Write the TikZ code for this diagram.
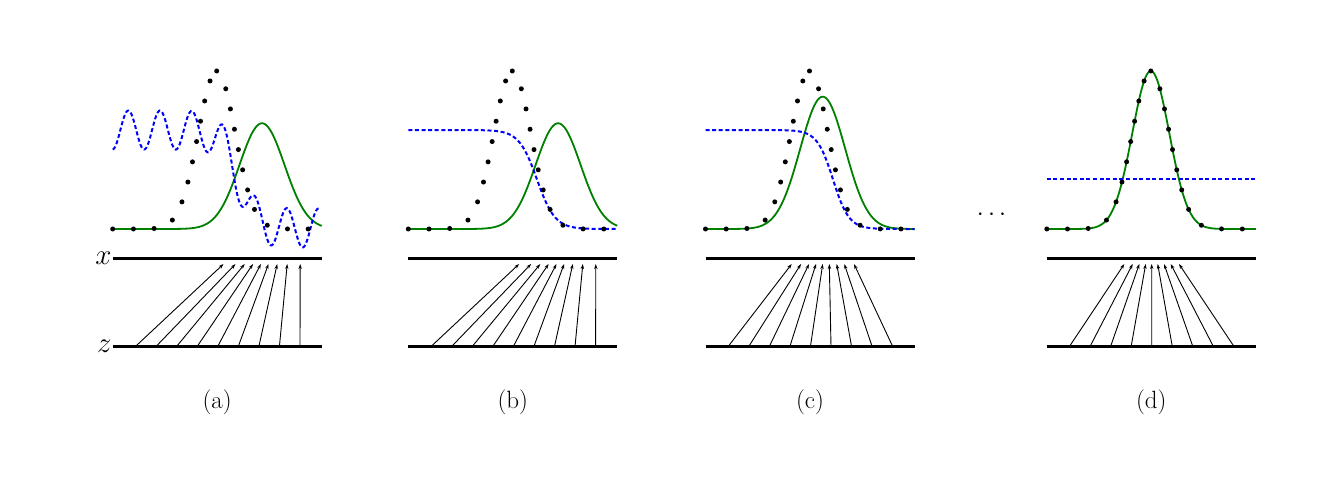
\RequirePackage{fix-cm}
\documentclass[tikz,border=0pt]{standalone}
\usetikzlibrary{arrows.meta}
\definecolor{pgreen}{rgb}{0,0.5,0}
\definecolor{dblue}{rgb}{0,0,1}
\tikzset{
  declare function={
    gauss(\t,\c,\s)=exp(-min(0.5*((\t-\c)/\s)*((\t-\c)/\s),12));
    sigm(\t,\c,\s)=1/(1+exp(-max(min((\t-\c)/\s,9),-9)));
  },
  axisline/.style={line width=3pt},
  datadots/.style={line width=5pt, line cap=round, dash pattern=on 0pt off 20.7pt},
  gencurve/.style={pgreen, line width=1.8pt},
  disccurve/.style={dblue, line width=2pt, dash pattern=on 4pt off 2.6pt},
  genarrow/.style={line width=0.9pt, -{Stealth[length=5pt,width=3.4pt]}},
  captiontext/.style={font=\fontsize{25}{29}\selectfont, inner sep=0pt},
  varlabel/.style={font=\fontsize{29}{33}\selectfont, anchor=east, inner sep=1pt},
}
\newcommand{\ganpanel}[3]{%
  \coordinate (#1-xl) at (0,258.3); \coordinate (#1-xr) at (209,258.3);
  \coordinate (#1-zl) at (0,346.7); \coordinate (#1-zr) at (209,346.7);
  \draw[axisline] (#1-xl) -- (#1-xr);
  \draw[axisline] (#1-zl) -- (#1-zr);
  \foreach \tp [count=\i from 0] in {#2} {
    \coordinate (#1-z\i) at ({22.5+20.6*\i},346.7);
    \coordinate (#1-x\i) at (\tp,264);
    \draw[genarrow] (#1-z\i) -- (#1-x\i);
  }
  \draw[datadots] plot[domain=0:104, samples=140] (\x,{229-158*gauss(\x,104,18.5)});
  \draw[datadots] plot[domain=104:209, samples=140] (\x,{229-158*gauss(\x,104,18.5)});
  \node[captiontext] (#1-cap) at (104.5,402) {(#3)};
}
\begin{document}
\begin{tikzpicture}[x=1pt,y=-1pt]
\useasboundingbox (0,0) rectangle (1332,492);

% panel (a)
\begin{scope}[shift={(112.7,0)}]
  \draw[gencurve] plot[domain=0:209, samples=160] (\x,{229-105.7*gauss(\x,149.3,22.5)});
  \draw[disccurve] plot[domain=0:207, samples=260]
     (\x,{130+98*sigm(\x,125.4,8.64)-19.5*cos((\x-15.6)*11.3565)});
  \ganpanel{a}{110.8,122.8,132,140.3,148.2,155.8,164.5,174.5,187.5}{a}
  \node[varlabel] (xlab) at (a-xl) {$x$};
  \node[varlabel] (zlab) at (a-zl) {$z$};
\end{scope}

% panel (b)
\begin{scope}[shift={(408.3,0)}]
  \draw[gencurve] plot[domain=0:209, samples=160] (\x,{229-105.7*gauss(\x,149.8,22.5)});
  \draw[disccurve] plot[domain=0:209, samples=160] (\x,{130+99*sigm(\x,128.7,9)});
  \ganpanel{b}{110.8,122.8,132,140.3,148.2,155.8,164.5,174.5,187.5}{b}
\end{scope}

% panel (c)
\begin{scope}[shift={(705.5,0)}]
  \draw[gencurve] plot[domain=0:209, samples=160] (\x,{229-132.3*gauss(\x,117.2,22.5)});
  \draw[disccurve] plot[domain=0:209, samples=160] (\x,{130+99*sigm(\x,127.5,8)});
  \ganpanel{c}{86.2,95.5,103.5,110.5,117.2,123.8,131.2,138.8,148.5}{c}
\end{scope}

% dots between (c) and (d)
\node[captiontext, anchor=base] (ellipsis) at (991.5,220) {$\cdots$};

% panel (d)
\begin{scope}[shift={(1046.8,0)}]
  \draw[gencurve] plot[domain=0:209, samples=160] (\x,{229-158*gauss(\x,104,18.5)});
  \coordinate (d-dl) at (0,179); \coordinate (d-dr) at (209,179);
  \draw[disccurve, line width=2.6pt] (d-dl) -- (d-dr);
  \ganpanel{d}{77.5,85.9,92.5,98.9,104.9,110.9,117.2,123.9,132.2}{d}
\end{scope}
\end{tikzpicture}
\end{document}
